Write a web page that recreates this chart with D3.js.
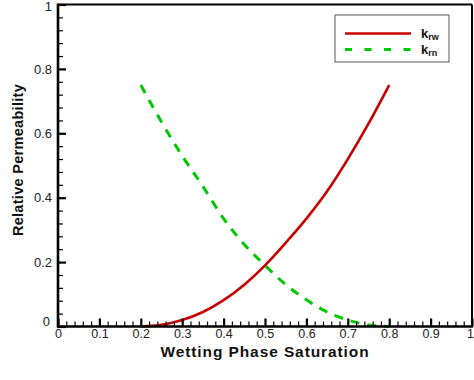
<!DOCTYPE html>
<html>
<head>
<meta charset="utf-8">
<script src="https://cdn.jsdelivr.net/npm/d3@7"></script>
<style>
  html, body { margin: 0; padding: 0; background: #fff; }
  svg { display: block; font-family: Arial, "Liberation Sans", Helvetica, sans-serif; }
</style>
</head>
<body>
<svg id="chart" width="474" height="380"></svg>
<script>
// ---- data ----
const saturation = [0.2, 0.25, 0.3, 0.35, 0.4, 0.45, 0.5, 0.55, 0.6, 0.65, 0.7, 0.75, 0.8];
const krw = [0, 0.005, 0.02, 0.045, 0.082, 0.13, 0.19, 0.26, 0.335, 0.42, 0.52, 0.63, 0.75];
const krn = [0.75, 0.635, 0.53, 0.435, 0.335, 0.255, 0.19, 0.13, 0.083, 0.045, 0.02, 0.005, 0];
const xTickValues = [0, 0.1, 0.2, 0.3, 0.4, 0.5, 0.6, 0.7, 0.8, 0.9, 1];
const xTickLabels = ["0", "0.1", "0.2", "0.3", "0.4", "0.5", "0.6", "0.7", "0.8", "0.9", "1"];
const yTickValues = [0, 0.2, 0.4, 0.6, 0.8, 1];
const yTickLabels = ["0", "0.2", "0.4", "0.6", "0.8", "1"];
const xTitle = "Wetting Phase Saturation";
const yTitle = "Relative Permeability";
const caption = "Fig. 3 Relative permeability curves used in the simulation";

// ---- layout ----
const svg = d3.select("#chart");
const x = d3.scaleLinear().domain([0, 1]).range([58, 472]);
const y = d3.scaleLinear().domain([0, 1]).range([326.5, 4.5]);

const plot = svg.append("g");

// curves
const line = (vals) => d3.line()
  .x((d, i) => x(saturation[i]))
  .y(d => y(d))
  .curve(d3.curveMonotoneX)(vals);

plot.append("path")
  .attr("d", line(krn))
  .attr("fill", "none")
  .attr("stroke", "#00c800")
  .attr("stroke-width", 3)
  .attr("stroke-dasharray", "9,8");

plot.append("path")
  .attr("d", line(krw))
  .attr("fill", "none")
  .attr("stroke", "#c80000")
  .attr("stroke-width", 2.6);

// minor ticks
const xMinor = d3.range(0, 1.0001, 0.02).filter(v => Math.abs(v * 10 - Math.round(v * 10)) > 1e-6);
const yMinor = d3.range(0, 1.0001, 0.04).filter(v => Math.abs(v * 5 - Math.round(v * 5)) > 1e-6);

// bottom axis (ticks inward)
const xAxis = d3.axisBottom(x)
  .tickValues(xTickValues)
  .tickFormat((d, i) => xTickLabels[i])
  .tickSize(-8)
  .tickPadding(3);
const gx = svg.append("g").attr("transform", `translate(0,${y(0)})`).call(xAxis);
gx.select(".domain").remove();
gx.selectAll(".tick line").attr("stroke", "#000").attr("stroke-width", 2.2);
gx.selectAll(".tick text").attr("font-size", 12.5).attr("fill", "#222")
  .attr("font-family", "Arial, 'Liberation Sans', sans-serif");
gx.selectAll(".tick text").filter(d => d === 1).attr("dx", "-2");

const gxm = svg.append("g").attr("transform", `translate(0,${y(0)})`)
  .call(d3.axisBottom(x).tickValues(xMinor).tickSize(-5).tickFormat(""));
gxm.select(".domain").remove();
gxm.selectAll(".tick line").attr("stroke", "#000").attr("stroke-width", 1.2);

// left axis (ticks inward)
const yAxis = d3.axisLeft(y)
  .tickValues(yTickValues)
  .tickFormat((d, i) => yTickLabels[i])
  .tickSize(-8)
  .tickPadding(6);
const gy = svg.append("g").attr("transform", `translate(${x(0)},0)`).call(yAxis);
gy.select(".domain").remove();
gy.selectAll(".tick line").attr("stroke", "#000").attr("stroke-width", 2.2);
gy.selectAll(".tick text").attr("font-size", 13).attr("fill", "#222")
  .attr("font-family", "Arial, 'Liberation Sans', sans-serif");
gy.selectAll(".tick text").filter(d => d === 0).attr("dy", "-0.1em").attr("dx", "-2");
gy.selectAll(".tick text").filter(d => d === 1).attr("dy", "0.45em");

const gym = svg.append("g").attr("transform", `translate(${x(0)},0)`)
  .call(d3.axisLeft(y).tickValues(yMinor).tickSize(-5).tickFormat(""));
gym.select(".domain").remove();
gym.selectAll(".tick line").attr("stroke", "#000").attr("stroke-width", 1.2);

// frame
svg.append("line").attr("x1", x(0)).attr("x2", x(1)).attr("y1", y(1)).attr("y2", y(1))
  .attr("stroke", "#000").attr("stroke-width", 2);
svg.append("line").attr("x1", x(1)).attr("x2", x(1)).attr("y1", y(1)).attr("y2", y(0))
  .attr("stroke", "#000").attr("stroke-width", 2);
svg.append("line").attr("x1", x(0) - 1).attr("x2", x(1) + 1).attr("y1", y(0)).attr("y2", y(0))
  .attr("stroke", "#000").attr("stroke-width", 2.6);
svg.append("line").attr("x1", x(0)).attr("x2", x(0)).attr("y1", y(1) - 1).attr("y2", y(0) + 1)
  .attr("stroke", "#000").attr("stroke-width", 2.6);

// axis titles
svg.append("text")
  .attr("x", 265)
  .attr("y", 356.5)
  .attr("text-anchor", "middle")
  .attr("font-size", 15.5)
  .attr("letter-spacing", 0.9)
  .attr("font-weight", "bold")
  .attr("fill", "#111")
  .text(xTitle);

svg.append("text")
  .attr("transform", `translate(23,160) rotate(-90)`)
  .attr("text-anchor", "middle")
  .attr("font-size", 14.5)
  .attr("letter-spacing", 0.3)
  .attr("font-weight", "bold")
  .attr("fill", "#111")
  .text(yTitle);

// legend
const lg = svg.append("g");
lg.append("rect").attr("x", 335).attr("y", 15).attr("width", 114).attr("height", 47)
  .attr("fill", "#fff").attr("stroke", "#555").attr("stroke-width", 1);
lg.append("line").attr("x1", 345).attr("x2", 411).attr("y1", 33.5).attr("y2", 33.5)
  .attr("stroke", "#c80000").attr("stroke-width", 2.6);
lg.append("line").attr("x1", 345).attr("x2", 411).attr("y1", 49.5).attr("y2", 49.5)
  .attr("stroke", "#00c800").attr("stroke-width", 3).attr("stroke-dasharray", "7,12.5");
const t1 = lg.append("text").attr("x", 421).attr("y", 38).attr("font-size", 13)
  .attr("font-weight", "bold").attr("fill", "#111");
t1.append("tspan").text("k");
t1.append("tspan").attr("font-size", 9).attr("dy", 2).text("rw");
const t2 = lg.append("text").attr("x", 421).attr("y", 54).attr("font-size", 13)
  .attr("font-weight", "bold").attr("fill", "#111");
t2.append("tspan").text("k");
t2.append("tspan").attr("font-size", 9).attr("dy", 2).text("rn");

// caption (cut off by the bottom of the window, as in the reference)
svg.append("text")
  .attr("x", 0)
  .attr("y", 392)
  .attr("font-size", 16)
  .attr("font-weight", "bold")
  .attr("fill", "#111")
  .text(caption);
</script>
</body>
</html>
